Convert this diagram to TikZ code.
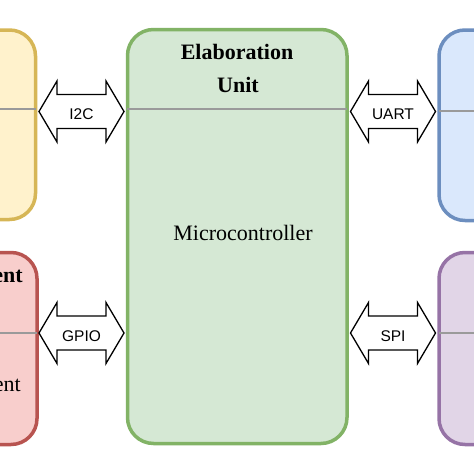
\documentclass[tikz,border=0pt]{standalone}
\usepackage{fontspec}
\usetikzlibrary{calc}
\setmainfont{Liberation Serif}
\newfontfamily\labfont{Liberation Sans}
\definecolor{yfill}{HTML}{FFF2CC}\definecolor{ydraw}{HTML}{D6B656}
\definecolor{bfill}{HTML}{DAE8FC}\definecolor{bdraw}{HTML}{6C8EBF}
\definecolor{gfill}{HTML}{D5E8D4}\definecolor{gdraw}{HTML}{82B366}
\definecolor{rfill}{HTML}{F8CECC}\definecolor{rdraw}{HTML}{B85450}
\definecolor{pfill}{HTML}{E1D5E7}\definecolor{pdraw}{HTML}{9673A6}
\definecolor{divgray}{HTML}{9A9A9A}
\begin{document}
\begin{tikzpicture}[x=1pt,y=-1pt,
  box/.style={rectangle,rounded corners=26pt,line width=3.5pt,inner sep=0pt},
  divider/.style={draw=divgray,line width=1.5pt,shorten <=1.7pt,shorten >=1.7pt},
  title/.style={font=\fontsize{22}{26}\selectfont\bfseries,inner sep=0pt,anchor=base},
  body/.style={font=\fontsize{22}{26}\selectfont,inner sep=0pt,anchor=base},
  lbl/.style={font=\labfont\fontsize{15.5}{18}\selectfont,inner sep=0pt},
  pics/dbl/.style={code={
    \draw[line width=1.3pt,fill=white,line join=miter]
      (-42.5,0) -- (-24.5,-30.5) -- (-24.5,-17) -- (24.5,-17) -- (24.5,-30.5)
      -- (42.5,0) -- (24.5,30.5) -- (24.5,17) -- (-24.5,17) -- (-24.5,30.5) -- cycle;
    \node[lbl] (-lab) at (0,3) {#1};
  }}]
\useasboundingbox (0,0) rectangle (474,474);
% boxes
\node[box,fill=yfill,draw=ydraw,minimum width=220pt,minimum height=189.5pt] (sens) at (-74.5,124.75) {};
\node[box,fill=bfill,draw=bdraw,minimum width=220pt,minimum height=190.5pt] (comm) at (549,125.25) {};
\node[box,fill=rfill,draw=rdraw,minimum width=220pt,minimum height=192pt] (act) at (-73,348.5) {};
\node[box,fill=pfill,draw=pdraw,minimum width=220pt,minimum height=192pt] (mem) at (549,348.5) {};
\node[box,fill=gfill,draw=gdraw,minimum width=219.5pt,minimum height=414pt] (mcu) at (237.25,236.5) {};
% dividers
\draw[divider] (sens.west |- 0,109) -- (sens.east |- 0,109);
\draw[divider] (comm.west |- 0,111) -- (comm.east |- 0,111);
\draw[divider] (act.west |- 0,333) -- (act.east |- 0,333);
\draw[divider] (mem.west |- 0,333) -- (mem.east |- 0,333);
\draw[divider] (mcu.west |- 0,109) -- (mcu.east |- 0,109);
% texts
\node[title] (t1) at (237,59) {Elaboration};
\node[title] (t2) at (238,92) {Unit};
\node[body] (t3) at (243,240) {Microcontroller};
\node[title,anchor=base east] (t4) at (23,282) {ent};
\node[body,anchor=base east] (t5) at (21,391) {ent};
% connectors (double arrows between boxes)
\coordinate (cl) at ($(sens.east)!0.5!(mcu.west)$);
\coordinate (cr) at ($(mcu.east)!0.5!(comm.west)$);
\pic (i2c) at (cl |- 0,111.5) {dbl=I2C};
\pic (uart) at (cr |- 0,111.5) {dbl=UART};
\pic (gpio) at (cl |- 0,333) {dbl=GPIO};
\pic (spi) at (cr |- 0,333) {dbl=SPI};
\end{tikzpicture}
\end{document}
